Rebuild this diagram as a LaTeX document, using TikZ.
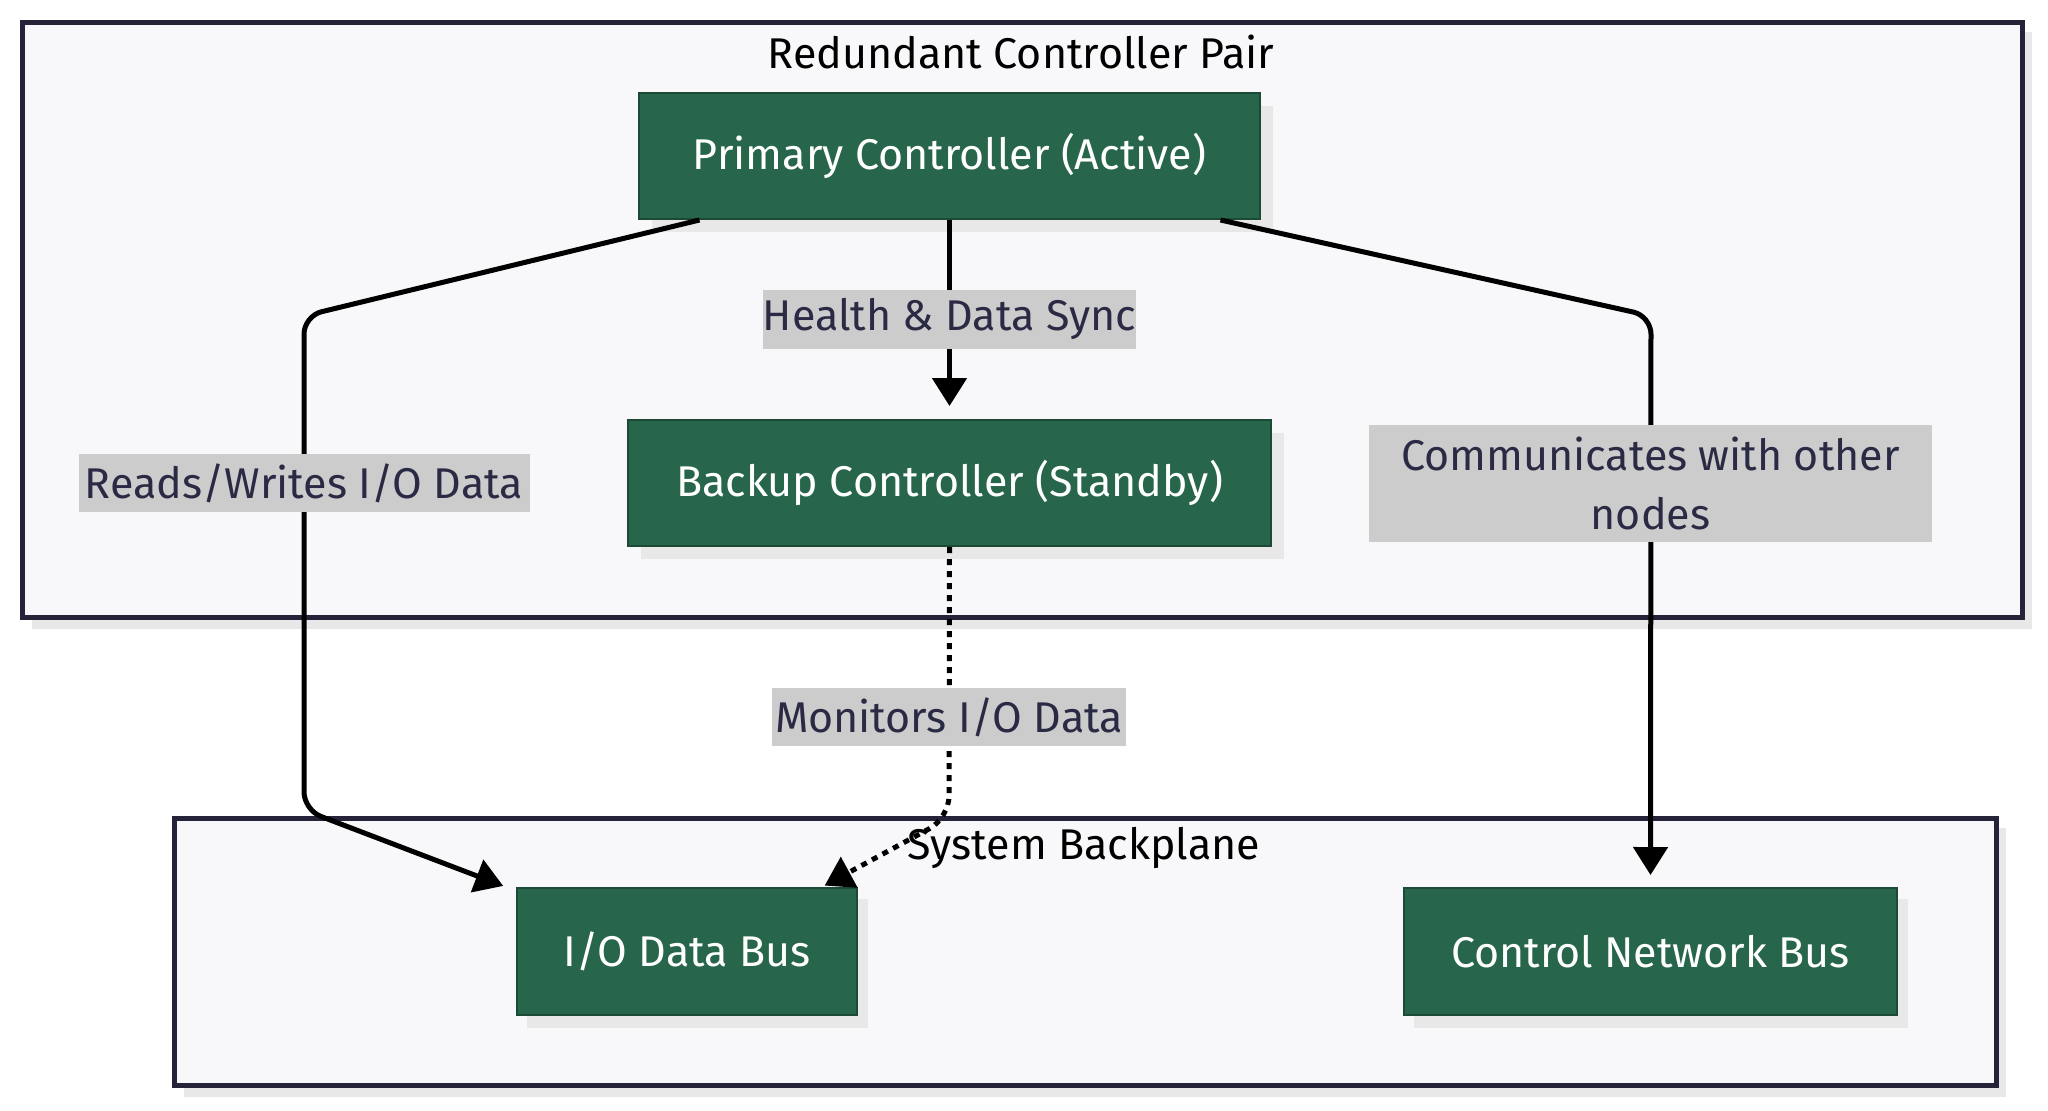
\documentclass[tikz,border=0pt]{standalone}
\usepackage{fontspec}
\setmainfont{Fira Sans}
\usetikzlibrary{arrows.meta,calc}
\definecolor{nodegreen}{HTML}{27664B}
\definecolor{nodeedge}{HTML}{1D4A36}
\definecolor{clusterfill}{HTML}{F8F8FA}
\definecolor{clusteredge}{HTML}{25233A}
\definecolor{shadowgrey}{HTML}{E8E8E8}
\definecolor{labelbg}{HTML}{CCCCCC}
\definecolor{labeltext}{HTML}{2A2A45}
\begin{document}
\begin{tikzpicture}[x=1pt,y=-1pt,
  every node/.style={font=\fontsize{43}{59}\selectfont},
  box/.style={draw=nodeedge,line width=2pt,fill=nodegreen,text=white,inner sep=0pt,minimum height=126pt},
  boxshadow/.style={fill=shadowgrey,draw=none},
  cluster/.style={draw=clusteredge,line width=5pt,fill=clusterfill},
  edgelabel/.style={fill=labelbg,text=labeltext,inner sep=0pt,align=center},
  conn/.style={line width=5pt,-{Triangle[width=34pt,length=28pt]},rounded corners=18pt}
]
\useasboundingbox (0,0) rectangle (2048,1111);
% clusters
\fill[shadowgrey] (32,32) rectangle (2032,629);
\draw[cluster] (22,22) rectangle (2022,617);
\node[text=black] (t1) at (1021,52) {Redundant Controller Pair};
\fill[shadowgrey] (184,828) rectangle (2006,1097);
\draw[cluster] (174,818) rectangle (1996,1085);
% node shadows
\fill[boxshadow] (652,106) rectangle (1273,232);
\fill[boxshadow] (641,433) rectangle (1284,559);
\fill[boxshadow] (527,899) rectangle (868,1028);
\fill[boxshadow] (1414,899) rectangle (1908,1028);
% nodes
\node[box,minimum width=621pt] (P) at (949.5,156) {Primary Controller (Active)};
\node[box,minimum width=643pt] (B) at (949.5,483) {Backup Controller (Standby)};
\node[box,minimum width=340pt,minimum height=127pt] (IO) at (687,951.5) {I/O Data Bus};
\node[box,minimum width=493pt,minimum height=127pt] (CN) at (1650.5,951.5) {Control Network Bus};
\node[text=black] (t2) at (1084,848) {System Backplane};
% connectors
\draw[conn,shorten >=3pt] ([xshift=-250pt]P.south) -- (304,316) -- (304,810) -- ([xshift=-10pt]IO.north west);
\draw[conn,shorten >=13pt] (P.south) -- (B.north);
\draw[conn,shorten >=12pt] ([xshift=271pt]P.south) -- (1651,316) -- (CN.north);
\draw[conn,dash pattern=on 6pt off 6pt,rounded corners=22pt,shorten >=3pt] (B.south) -- (949,818) -- ([xshift=-36pt]IO.north east);
% labels
\node[edgelabel,minimum width=369pt,minimum height=59pt] (l1) at (949.5,319) {Health \& Data Sync};
\node[edgelabel,minimum width=451pt,minimum height=58pt] (l2) at (304,483) {Reads/Writes I/O Data};
\node[edgelabel,minimum width=563pt,minimum height=117pt] (l3) at (1650.5,483) {Communicates with other\\nodes};
\node[edgelabel,minimum width=354pt,minimum height=58pt] (l4) at (949,717) {Monitors I/O Data};
\end{tikzpicture}
\end{document}
